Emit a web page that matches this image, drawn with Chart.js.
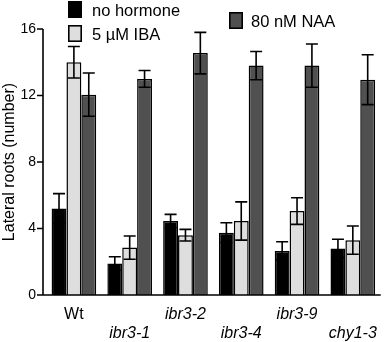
<!DOCTYPE html>
<html>
<head>
<meta charset="utf-8">
<script src="https://cdn.jsdelivr.net/npm/chart.js@4"></script>
<style>
  html, body { margin: 0; padding: 0; background: #fff; }
  #wrap { position: relative; width: 387px; height: 342px; }
</style>
</head>
<body>
<div id="wrap"><canvas id="c" width="387" height="342"></canvas></div>
<script>
const categories = ['Wt', 'ibr3-1', 'ibr3-2', 'ibr3-4', 'ibr3-9', 'chy1-3'];
const seriesNames = ['no hormone', '5 \u00b5M IBA', '80 nM NAA'];
const noHormone    = [5.2, 1.9, 4.45, 3.75, 2.65, 2.8];
const noHormoneErr = [0.9, 0.4, 0.4, 0.6, 0.55, 0.55];
const iba          = [14.0, 2.85, 3.6, 4.45, 5.05, 3.3];
const ibaErr       = [0.95, 0.7, 0.35, 1.15, 0.8, 0.85];
const naa          = [12.05, 13.0, 14.55, 13.8, 13.8, 12.95];
const naaErr       = [1.3, 0.5, 1.25, 0.85, 1.3, 1.5];
const yTicks = [0, 4, 8, 12, 16];
const FONT = "'Liberation Sans', Arial, Helvetica, sans-serif";

const colors = ['#000000', '#dedede', '#505050'];
const values = [noHormone, iba, naa];
const errors = [noHormoneErr, ibaErr, naaErr];

const errorBars = {
  id: 'errorBars',
  afterDatasetsDraw(chart) {
    const ctx = chart.ctx;
    const ys = chart.scales.y;
    ctx.save();
    ctx.strokeStyle = '#000';
    ctx.lineWidth = 1.6;
    chart.data.datasets.forEach((ds, i) => {
      const meta = chart.getDatasetMeta(i);
      meta.data.forEach((el, j) => {
        const v = ds.data[j], e = ds.errors[j];
        const x = el.x;
        const yt = ys.getPixelForValue(v + e);
        const yb = ys.getPixelForValue(v - e);
        const cw = 6;
        ctx.beginPath();
        ctx.moveTo(x, yt); ctx.lineTo(x, yb);
        ctx.moveTo(x - cw, yt); ctx.lineTo(x + cw, yt);
        ctx.moveTo(x - cw, yb); ctx.lineTo(x + cw, yb);
        ctx.stroke();
      });
    });
    ctx.restore();
  }
};

const axesAndLegend = {
  id: 'axesAndLegend',
  afterDraw(chart) {
    const ctx = chart.ctx;
    const ys = chart.scales.y;
    const ca = chart.chartArea;
    const ax = 43;
    ctx.save();
    ctx.strokeStyle = '#000';
    ctx.lineWidth = 1.6;
    ctx.beginPath();
    ctx.moveTo(ax, ys.getPixelForValue(16));
    ctx.lineTo(ax, ys.getPixelForValue(0));
    ctx.lineTo(ca.right, ys.getPixelForValue(0));
    yTicks.forEach(t => {
      const y = ys.getPixelForValue(t);
      ctx.moveTo(ax - 6, y); ctx.lineTo(ax, y);
    });
    ctx.stroke();

    // legend
    const items = [
      {x: 68, y: 1, tx: 92, ty: 11},
      {x: 68, y: 25, tx: 92, ty: 35},
      {x: 229, y: 12, tx: 251, ty: 22}
    ];
    ctx.font = '16.5px ' + FONT;
    ctx.textBaseline = 'middle';
    ctx.textAlign = 'left';
    items.forEach((it, i) => {
      ctx.fillStyle = colors[i];
      ctx.fillRect(it.x, it.y, 14, 17);
      ctx.lineWidth = 1.6;
      ctx.strokeStyle = '#000';
      ctx.strokeRect(it.x + 0.8, it.y + 0.8, 12.4, 15.4);
      ctx.fillStyle = '#000';
      ctx.fillText(seriesNames[i], it.tx, it.ty);
    });
    ctx.restore();
  }
};

new Chart(document.getElementById('c'), {
  type: 'bar',
  data: {
    labels: categories,
    datasets: values.map((v, i) => ({
      label: seriesNames[i],
      data: v,
      errors: errors[i],
      backgroundColor: colors[i],
      borderColor: '#000',
      borderWidth: 1.5,
      barPercentage: 1.0,
      categoryPercentage: 0.8
    }))
  },
  options: {
    responsive: false,
    animation: false,
    devicePixelRatio: 1,
    layout: { padding: { top: 29, right: 2, left: 0, bottom: 0 } },
    plugins: { legend: { display: false }, tooltip: { enabled: false } },
    scales: {
      x: {
        grid: { display: false, drawTicks: false },
        border: { display: false },
        afterFit(s) { s.height = 47; },
        ticks: {
          autoSkip: false, maxRotation: 0, minRotation: 0, padding: 10,
          color: '#000',
          callback(val, idx) {
            const l = categories[idx];
            return idx % 2 === 0 ? [l] : ['', l];
          },
          font(ctx) {
            return { family: FONT, size: 16, style: ctx.index === 0 ? 'normal' : 'italic', lineHeight: 1.2 };
          }
        }
      },
      y: {
        min: 0, max: 16,
        grid: { display: false, drawTicks: false },
        border: { display: false },
        afterFit(s) { s.width = 46; },
        afterBuildTicks(s) { s.ticks = yTicks.map(v => ({ value: v })); },
        ticks: { padding: 10, color: '#000', font: { family: FONT, size: 14 } },
        title: {
          display: true, text: 'Lateral roots (number)', color: '#000',
          font: { family: FONT, size: 16 }, padding: { top: 0, bottom: 0 }
        }
      }
    }
  },
  plugins: [errorBars, axesAndLegend]
});
</script>
</body>
</html>
